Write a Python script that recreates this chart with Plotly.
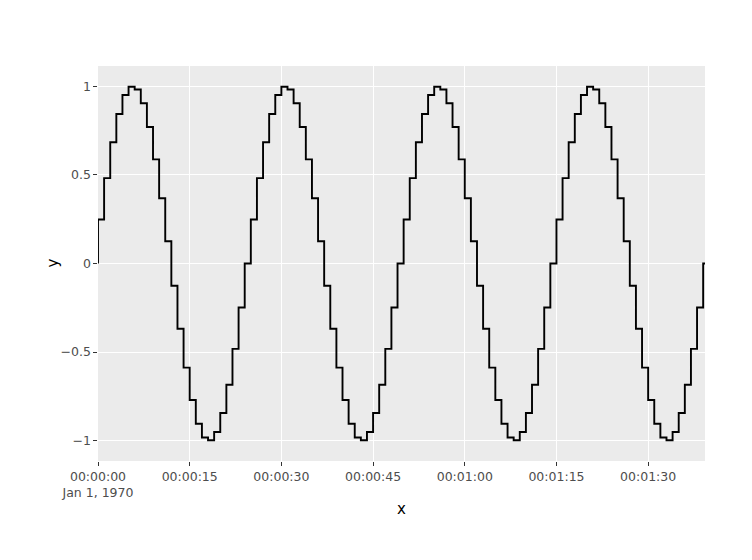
import plotly.graph_objects as go

# seconds since epoch and the sampled signal
seconds = list(range(0, 101))
y_values = [
    0.0, 0.2487, 0.4818, 0.6845, 0.8443, 0.9511, 0.998, 0.9823, 0.9048, 0.7705,
    0.5878, 0.3681, 0.1253, -0.1253, -0.3681, -0.5878, -0.7705, -0.9048, -0.9823, -0.998,
    -0.9511, -0.8443, -0.6845, -0.4818, -0.2487, 0.0, 0.2487, 0.4818, 0.6845, 0.8443,
    0.9511, 0.998, 0.9823, 0.9048, 0.7705, 0.5878, 0.3681, 0.1253, -0.1253, -0.3681,
    -0.5878, -0.7705, -0.9048, -0.9823, -0.998, -0.9511, -0.8443, -0.6845, -0.4818, -0.2487,
    0.0, 0.2487, 0.4818, 0.6845, 0.8443, 0.9511, 0.998, 0.9823, 0.9048, 0.7705,
    0.5878, 0.3681, 0.1253, -0.1253, -0.3681, -0.5878, -0.7705, -0.9048, -0.9823, -0.998,
    -0.9511, -0.8443, -0.6845, -0.4818, -0.2487, 0.0, 0.2487, 0.4818, 0.6845, 0.8443,
    0.9511, 0.998, 0.9823, 0.9048, 0.7705, 0.5878, 0.3681, 0.1253, -0.1253, -0.3681,
    -0.5878, -0.7705, -0.9048, -0.9823, -0.998, -0.9511, -0.8443, -0.6845, -0.4818, -0.2487,
    0.0,
]
y_ticks = [-1, -0.5, 0, 0.5, 1]

x_times = ["1970-01-01 00:%02d:%02d" % (s // 60, s % 60) for s in seconds]

FONT = "Verdana, DejaVu Sans"

fig = go.Figure()
fig.add_trace(go.Scatter(
    x=x_times,
    y=y_values,
    mode="lines",
    line=dict(color="black", width=1.9, shape="vh"),
    showlegend=False,
))

axis_common = dict(
    showgrid=True,
    gridcolor="white",
    gridwidth=1.07,
    zeroline=False,
    ticks="outside",
    ticklen=3.65,
    tickwidth=1.07,
    tickcolor="#333333",
    tickfont=dict(family=FONT, size=12.5, color="#4D4D4D"),
    showline=False,
)

fig.update_layout(
    width=752,
    height=560,
    margin=dict(l=90, r=55, t=58, b=107),
    paper_bgcolor="white",
    plot_bgcolor="#EBEBEB",
    font=dict(family=FONT, color="black"),
    xaxis=dict(
        type="date",
        range=["1970-01-01 00:00:00", "1970-01-01 00:01:39.3"],
        dtick=15000,
        tick0="1970-01-01 00:00:00",
        **axis_common,
    ),
    yaxis=dict(
        range=[-1.115, 1.115],
        tickvals=y_ticks,
        **axis_common,
    ),
)

# axis titles placed like the reference
fig.add_annotation(text="x", xref="paper", yref="paper", x=0.5, y=0,
                   yshift=-48, showarrow=False, yanchor="middle",
                   font=dict(family=FONT, size=15, color="black"))
fig.add_annotation(text="y", xref="paper", yref="paper", x=0, y=0.5,
                   xshift=-46, showarrow=False, xanchor="center", textangle=-90,
                   font=dict(family=FONT, size=15, color="black"))

fig.write_html("out.html")
